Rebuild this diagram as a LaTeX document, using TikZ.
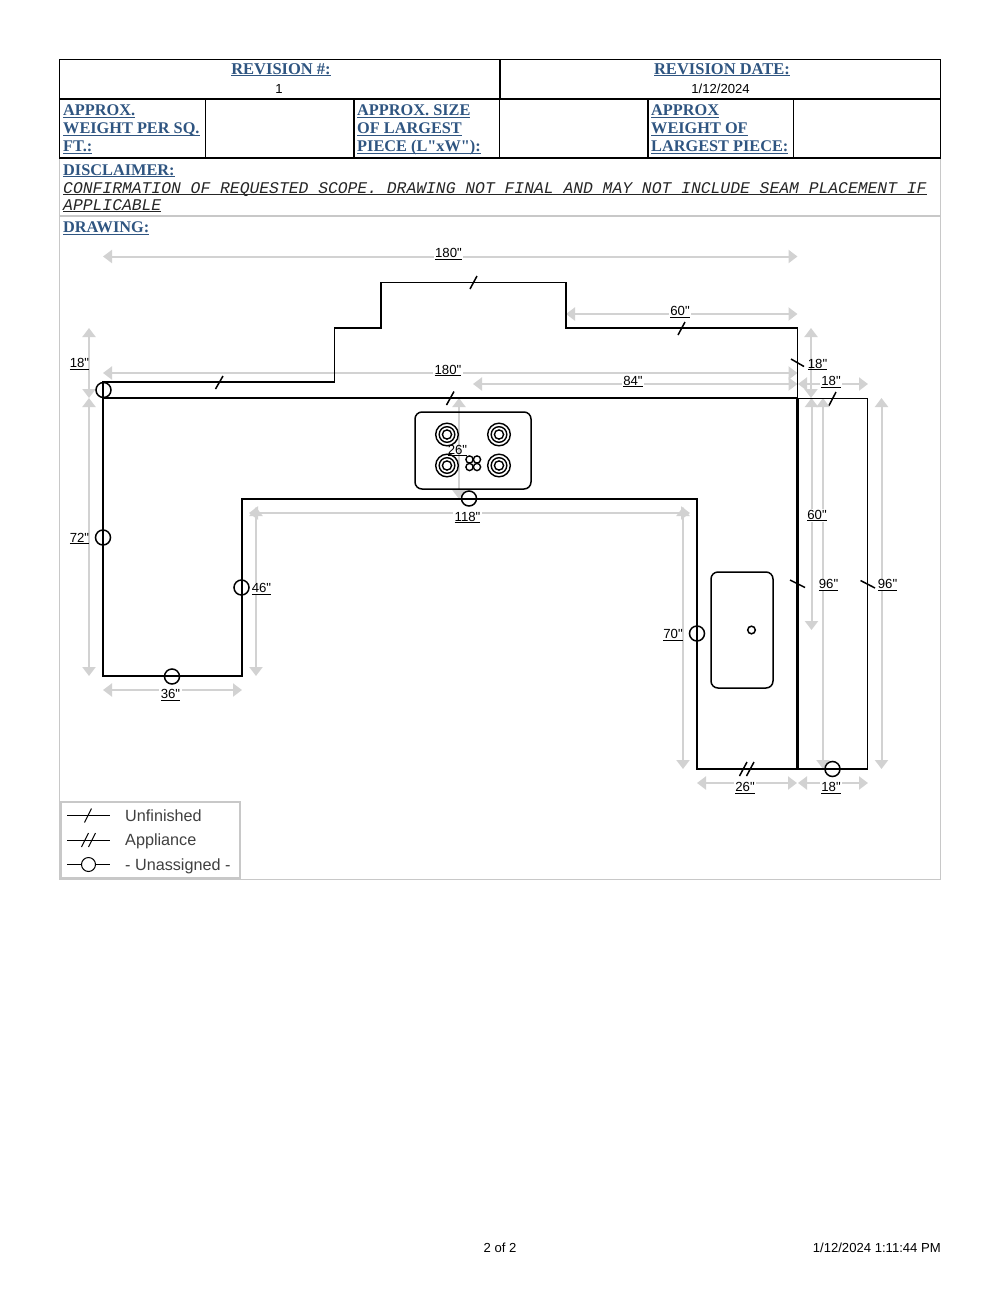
\documentclass[tikz,border=0pt]{standalone}
\usepackage{fontspec}
\setmainfont{Liberation Sans}
\newfontfamily\labelfont{Liberation Sans}
\newfontfamily\hdfont{Liberation Serif}
\newfontfamily\monofont{Liberation Mono}
\usetikzlibrary{arrows.meta}
\definecolor{hdblue}{HTML}{2F5581}
\definecolor{dimgrey}{HTML}{D2D2D2}
\definecolor{framegrey}{HTML}{C8C8C8}
\newcommand{\hd}[1]{\setbox0\hbox{#1}\rlap{\rule[-2pt]{\wd0}{1pt}}\box0}
\tikzset{
  hdtext/.style={font=\hdfont\fontsize{16.3}{18}\selectfont\bfseries, text=hdblue, inner sep=0pt, anchor=base west},
  hdmid/.style={font=\hdfont\fontsize{16.5}{18}\selectfont\bfseries, text=hdblue, inner sep=0pt, anchor=base},
  monotext/.style={font=\monofont\itshape\fontsize{16.35}{17}\selectfont, inner sep=0pt, anchor=base west, text=black!85},
  plain/.style={font=\labelfont\fontsize{13.1}{15}\selectfont, inner sep=0pt},
  dimlabel/.style={font=\labelfont\fontsize{13.2}{14}\selectfont, fill=white, inner xsep=1.5pt, inner ysep=0.5pt},
  dimnofill/.style={font=\labelfont\fontsize{13.2}{14}\selectfont, inner sep=0pt},
  dimline/.style={draw=dimgrey, line width=2pt, {Triangle[length=9pt,width=13pt]}-{Triangle[length=9pt,width=13pt]}},
  outline/.style={draw=black, line width=1.7pt, line join=miter},
  tick/.style={draw=black, line width=1.5pt},
  seam/.style={draw=black, line width=1.5pt, circle, minimum size=15pt, inner sep=0pt},
  burner/.style={draw=black, line width=1.4pt},
  tbl/.style={draw=black, line width=1.4pt},
  frame/.style={draw=framegrey, line width=1pt},
  legtext/.style={font=\labelfont\fontsize{16.2}{18}\selectfont, text=black!75, inner sep=0pt, anchor=base west},
  legline/.style={draw=black, line width=1pt},
}
\begin{document}
\begin{tikzpicture}[x=1pt,y=-1pt]
\useasboundingbox[fill=white] (0,0) rectangle (1000,1294);

% grey frame of the lower panels
\draw[frame] (59.5,158) -- (59.5,879) -- (940.5,879) -- (940.5,158);
\draw[draw=framegrey,line width=2pt] (59.5,216) -- (940.5,216);

% table
\draw[tbl] (59.5,59.5) rectangle (940.5,158);
\draw[tbl,line width=2.2pt] (59.5,99) -- (940.5,99);
\draw[tbl,line width=2pt] (500,59.5) -- (500,99);
\draw[tbl] (205.5,99) -- (205.5,158);
\draw[tbl,line width=2pt] (353.5,99) -- (353.5,158);
\draw[tbl] (499.5,99) -- (499.5,158);
\draw[tbl,line width=2pt] (647.5,99) -- (647.5,158);
\draw[tbl] (793.5,99) -- (793.5,158);

\node[hdmid] (revno) at (281,74) {\hd{REVISION \#:}};
\node[plain] (revval) at (279,88.5) {1};
\node[hdmid] (revdate) at (722,74) {\hd{REVISION DATE:}};
\node[plain] (dateval) at (720.5,88.5) {1/12/2024};

\node[hdtext] (wpsfa) at (63,115.5) {\hd{APPROX.}};
\node[hdtext] (wpsfb) at (63,133.5) {\hd{WEIGHT PER SQ.}};
\node[hdtext] (wpsfc) at (63,151.5) {\hd{FT.:}};
\node[hdtext] (sizea) at (357,115.5) {\hd{APPROX. SIZE}};
\node[hdtext] (sizeb) at (357,133.5) {\hd{OF LARGEST}};
\node[hdtext] (sizec) at (357,151.5) {\hd{PIECE (L"xW"):}};
\node[hdtext] (wlpa) at (651,115.5) {\hd{APPROX}};
\node[hdtext] (wlpb) at (651,133.5) {\hd{WEIGHT OF}};
\node[hdtext] (wlpc) at (651,151.5) {\hd{LARGEST PIECE:}};

\node[hdtext] (disc) at (63,175) {\hd{DISCLAIMER:}};
\node[monotext] (disca) at (63,193) {\hd{CONFIRMATION OF REQUESTED SCOPE. DRAWING NOT FINAL AND MAY NOT INCLUDE SEAM PLACEMENT IF}};
\node[monotext] (discb) at (63,210) {\hd{APPLICABLE}};
\node[hdtext] (drawing) at (63,232.5) {\hd{DRAWING:}};

% dimension lines
\draw[dimline] (103,256.5) -- (797.5,256.5);
\draw[dimline] (566,314) -- (797.5,314);
\draw[dimline] (89,328) -- (89,398);
\draw[dimline] (89,398) -- (89,676);
\draw[dimline] (103,373) -- (797.5,373);
\draw[dimline] (473,384) -- (797.5,384);
\draw[dimline] (811,328) -- (811,398);
\draw[dimline] (798,384) -- (868,384);
\draw[dimline] (811.5,398) -- (811.5,630);
\draw[dimline] (823,398) -- (823,769);
\draw[dimline] (881.5,398) -- (881.5,769);
\draw[dimline] (249,513) -- (690,513);
\draw[dimline] (256,507) -- (256,676);
\draw[dimline] (683,507) -- (683,769);
\draw[dimline] (103,690) -- (242,690);
\draw[dimline] (697,783) -- (797,783);
\draw[dimline] (798,783) -- (868,783);
\draw[dimline] (459,398) -- (459,499);

% countertop outline
\draw[outline] (103,382) -- (334.5,382) -- (334.5,328) -- (381,328) -- (381,282.5) -- (566,282.5) -- (566,328) -- (797.5,328) -- (797.5,769) -- (697,769) -- (697,499) -- (242,499) -- (242,676) -- (103,676) -- cycle;
\draw[outline,line width=2pt] (103,398) -- (797.5,398);
\draw[outline] (797.5,398.5) -- (867.5,398.5) -- (867.5,769) -- (797.5,769);
\draw[outline,line width=2.2pt] (797.5,398) -- (797.5,769);

% cooktop
\draw[outline,line width=1.5pt,rounded corners=7pt] (415,412) rectangle (531,489);
\foreach \cx/\cy in {447/434.5,499/434.5,447/465.5,499/465.5}{
  \draw[burner] (\cx,\cy) circle (11.3);
  \draw[burner] (\cx,\cy) circle (7.8);
  \draw[burner] (\cx,\cy) circle (4.6);
}
\foreach \cx/\cy in {469.5/459.5,477/459.5,469.5/467,477/467}{
  \draw[burner] (\cx,\cy) circle (3.6);
}
% sink
\draw[outline,line width=1.5pt,rounded corners=7pt] (711,572) rectangle (773,688);
\draw[burner,line width=1.5pt] (751.5,630) circle (3.8);

% ticks
\draw[tick] (215.5,389) -- (223,376);
\draw[tick] (470,289) -- (477,276);
\draw[tick] (678,335) -- (685,322);
\draw[tick] (446.5,405) -- (454,391.5);
\draw[tick] (791,359) -- (804,366.5);
\draw[tick] (829,405.5) -- (836,392);
\draw[tick] (790,580) -- (805,587.5);
\draw[tick] (860.5,580.5) -- (875,588);
\draw[tick] (739.5,776) -- (747,762);
\draw[tick] (746.5,776) -- (754,762);

% seams
\node[seam] (s1) at (103.5,390) {};
\node[seam] (s2) at (103,537.5) {};
\node[seam] (s3) at (172,676.5) {};
\node[seam] (s4) at (241.5,587.5) {};
\node[seam] (s5) at (469,498.5) {};
\node[seam] (s6) at (697,633.5) {};
\node[seam] (s7) at (832.5,769) {};

% dimension labels
\node[dimlabel] (d1) at (448.5,254) {\underline{180"}};
\node[dimlabel] (d2) at (680,312) {\underline{60"}};
\node[dimnofill] (d3) at (79.5,364) {\underline{18"}};
\node[dimlabel] (d4) at (448,370.5) {\underline{180"}};
\node[dimlabel] (d5) at (633,381.5) {\underline{84"}};
\node[dimnofill] (d6) at (817.5,364.5) {\underline{18"}};
\node[dimlabel] (d7) at (831,382) {\underline{18"}};
\node[dimlabel] (d8) at (817,515.5) {\underline{60"}};
\node[dimlabel] (d9) at (828.5,585) {\underline{96"}};
\node[dimlabel] (d10) at (887.5,585) {\underline{96"}};
\node[dimnofill] (d11) at (79.5,538.5) {\underline{72"}};
\node[dimlabel] (d12) at (261.5,589) {\underline{46"}};
\node[dimlabel] (d13) at (467.5,517.5) {\underline{118"}};
\node[dimnofill] (d14) at (673,635) {\underline{70"}};
\node[dimlabel] (d15) at (170.5,695) {\underline{36"}};
\node[dimlabel] (d16) at (745,788) {\underline{26"}};
\node[dimlabel] (d17) at (831,788) {\underline{18"}};
\node[dimnofill] (d18) at (457.5,450.5) {\underline{26"}};

% legend
\draw[draw=framegrey,line width=2pt] (61,802) rectangle (240,877.5);
\coordinate (la) at (67,815.5); \coordinate (lb) at (110,815.5);
\coordinate (lc) at (67,840); \coordinate (ld) at (110,840);
\coordinate (le) at (67,864.5); \coordinate (lf) at (110,864.5);
\draw[legline] (la) -- (lb);
\draw[legline] (lc) -- (ld);
\draw[legline] (le) -- (lf);
\draw[legline] (84.5,822.5) -- (91.5,808.5);
\draw[legline] (81.5,847) -- (88.5,833);
\draw[legline] (88.5,847) -- (95.5,833);
\node[legline,circle,fill=white,minimum size=14pt,inner sep=0pt] (lcirc) at (88.5,864.5) {};
\node[legtext] (l1) at (125,821) {Unfinished};
\node[legtext] (l2) at (125,845.5) {Appliance};
\node[legtext] (l3) at (125,870) {- Unassigned -};

% footer
\node[plain] (page) at (500,1248) {2 of 2};
\node[plain,anchor=east] (stamp) at (941,1248) {1/12/2024 1:11:44 PM};
\end{tikzpicture}
\end{document}
